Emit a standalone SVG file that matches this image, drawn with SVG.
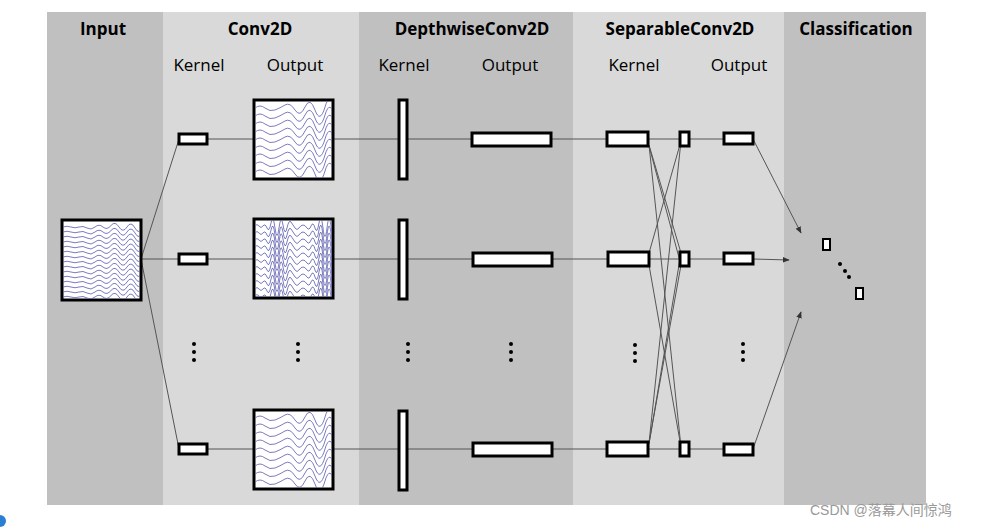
<svg xmlns="http://www.w3.org/2000/svg" xmlns:xlink="http://www.w3.org/1999/xlink" width="998" height="527" viewBox="0 0 998 527">
<style>
.hd{font-family:"Open Sans","Liberation Sans",sans-serif;font-weight:bold;font-size:17px;fill:#000;text-anchor:middle}
.sb{font-family:"Open Sans","Liberation Sans",sans-serif;font-size:17px;fill:#000;text-anchor:middle}
.bx{fill:#fff;stroke:#000;stroke-width:3}
.img{fill:#fff;stroke:#000;stroke-width:3}
.ln{stroke:#555;stroke-width:1;fill:none}
.w{stroke:#6464b4;stroke-width:1;fill:none;stroke-opacity:0.85}
</style>
<defs>
<marker id="ah" viewBox="0 0 10 10" refX="9" refY="5" markerWidth="7" markerHeight="7" orient="auto"><path d="M0,1 L10,5 L0,9 z" fill="#333"/></marker>
<path id="wi" d="M0,0 q4,-1.5 8,0 t8,0 t8,1 t8,-1 t8,0 t8,-1.5 t8,1.5 t8,0 t8,1 t8,-1"/>
<path id="wc" d="M0,0 q5,-4 10,0 t10,2 t10,-5 t10,5 t10,-3 t10,3 t10,-3 t10,3"/>
<path id="wh" d="M0,0 q2,-3 4,0 t4,0 t4,2 t4,-5 t4,5 t4,0 t4,-3 t4,3 t4,-6 t4,6 t4,0 t4,-3 t4,3 t4,-2 t4,2 t4,-5 t4,5 t4,0 t4,-2 t4,2"/>
<clipPath id="c1"><rect x="63" y="221" width="77" height="78"/></clipPath>
<clipPath id="c2"><rect x="255" y="101" width="77" height="77"/></clipPath>
<clipPath id="c3"><rect x="255" y="220" width="77" height="77"/></clipPath>
<clipPath id="c4"><rect x="255" y="411" width="77" height="77"/></clipPath>
</defs>
<g id="panels">
<rect x="47" y="12" width="116" height="493" fill="#c0c0c0"/>
<rect x="163" y="12" width="196" height="493" fill="#d9d9d9"/>
<rect x="359" y="12" width="214" height="493" fill="#c0c0c0"/>
<rect x="573" y="12" width="211" height="493" fill="#d9d9d9"/>
<rect x="784" y="12" width="142" height="493" fill="#c0c0c0"/>
</g>
<g id="labels">
<text class="hd" x="103" y="35">Input</text>
<text class="hd" x="260" y="35">Conv2D</text>
<text class="hd" x="472" y="35">DepthwiseConv2D</text>
<text class="hd" x="680" y="35">SeparableConv2D</text>
<text class="hd" x="856" y="35">Classification</text>
<text class="sb" x="199" y="71">Kernel</text>
<text class="sb" x="295" y="71">Output</text>
<text class="sb" x="404" y="71">Kernel</text>
<text class="sb" x="510" y="71">Output</text>
<text class="sb" x="634" y="71">Kernel</text>
<text class="sb" x="739" y="71">Output</text>
</g>
<g id="connectors">
<path class="ln" d="M141,259 L179,139 M141,259 L179,259 M141,259 L179,449"/>
<path class="ln" d="M207,139 H254 M207,259 H254 M207,449 H254"/>
<path class="ln" d="M333,139 H399 M333,259 H399 M333,449 H399"/>
<path class="ln" d="M407,139 H472 M407,259 H472 M407,449 H472"/>
<path class="ln" d="M551,139 H607 M551,259 H607 M551,449 H607"/>
<path class="ln" d="M648,139 H680 M648,259 H680 M648,449 H680"/>
<path class="ln" d="M689,139 H724 M689,259 H724 M689,449 H724"/>
<path class="ln" d="M649,145 L681,253 M649,145 L681,447 M649,253 L681,141 M649,265 L681,447 M649,443 L681,141 M649,443 L681,265 M649,146 L681,265 M649,444 L681,253"/>
<path class="ln" marker-end="url(#ah)" d="M753,139 L801,233"/>
<path class="ln" marker-end="url(#ah)" d="M753,259 L789,260"/>
<path class="ln" marker-end="url(#ah)" d="M753,449 L801,312"/>
</g>
<g id="input">
<rect class="img" x="62" y="220" width="79" height="80"/>
<g clip-path="url(#c1)" class="w">
<use href="#wi" x="63" y="227"/><use href="#wi" x="63" y="232"/><use href="#wi" x="63" y="237"/><use href="#wi" x="63" y="242"/><use href="#wi" x="63" y="247"/><use href="#wi" x="63" y="252"/><use href="#wi" x="63" y="257"/><use href="#wi" x="63" y="262"/><use href="#wi" x="63" y="267"/><use href="#wi" x="63" y="272"/><use href="#wi" x="63" y="277"/><use href="#wi" x="63" y="282"/><use href="#wi" x="63" y="287"/><use href="#wi" x="63" y="292"/><use href="#wi" x="63" y="297"/>
</g>
</g>
<g id="conv-kernels">
<rect class="bx" x="179" y="134" width="28" height="10"/>
<rect class="bx" x="179" y="254" width="28" height="10"/>
<rect class="bx" x="179" y="444" width="28" height="10"/>
</g>
<g id="conv-outputs">
<rect class="img" x="254" y="100" width="79" height="79"/>
<g clip-path="url(#c2)" class="w">
<use href="#wc" x="255" y="108"/><use href="#wc" x="255" y="116"/><use href="#wc" x="255" y="124"/><use href="#wc" x="255" y="132"/><use href="#wc" x="255" y="140"/><use href="#wc" x="255" y="148"/><use href="#wc" x="255" y="156"/><use href="#wc" x="255" y="164"/><use href="#wc" x="255" y="172"/>
</g>
<rect class="img" x="254" y="219" width="79" height="79"/>
<g clip-path="url(#c3)" class="w">
<use href="#wh" x="255" y="226"/><use href="#wh" x="255" y="233"/><use href="#wh" x="255" y="240"/><use href="#wh" x="255" y="247"/><use href="#wh" x="255" y="254"/><use href="#wh" x="255" y="261"/><use href="#wh" x="255" y="268"/><use href="#wh" x="255" y="275"/><use href="#wh" x="255" y="282"/><use href="#wh" x="255" y="289"/><use href="#wh" x="255" y="296"/>
</g>
<rect class="img" x="254" y="410" width="79" height="79"/>
<g clip-path="url(#c4)" class="w">
<use href="#wc" x="255" y="418"/><use href="#wc" x="255" y="426"/><use href="#wc" x="255" y="434"/><use href="#wc" x="255" y="442"/><use href="#wc" x="255" y="450"/><use href="#wc" x="255" y="458"/><use href="#wc" x="255" y="466"/><use href="#wc" x="255" y="474"/><use href="#wc" x="255" y="482"/>
</g>
</g>
<g id="depthwise-kernels">
<rect class="bx" x="399" y="100" width="8" height="79"/>
<rect class="bx" x="399" y="220" width="8" height="79"/>
<rect class="bx" x="399" y="411" width="8" height="79"/>
</g>
<g id="depthwise-outputs">
<rect class="bx" x="472" y="133" width="79" height="13"/>
<rect class="bx" x="473" y="253" width="79" height="13"/>
<rect class="bx" x="473" y="443" width="79" height="13"/>
</g>
<g id="separable-kernels">
<rect class="bx" x="607" y="132" width="41" height="14"/>
<rect class="bx" x="608" y="252" width="41" height="14"/>
<rect class="bx" x="607" y="442" width="41" height="14"/>
</g>
<g id="pointwise">
<rect class="bx" x="680" y="132" width="9" height="14"/>
<rect class="bx" x="680" y="252" width="9" height="14"/>
<rect class="bx" x="680" y="442" width="9" height="14"/>
</g>
<g id="separable-outputs">
<rect class="bx" x="724" y="133" width="29" height="11"/>
<rect class="bx" x="724" y="253" width="29" height="11"/>
<rect class="bx" x="724" y="444" width="29" height="11"/>
</g>
<g id="classification">
<rect x="823" y="239" width="7" height="11" fill="#fff" stroke="#000" stroke-width="2"/>
<rect x="856" y="288" width="7" height="11" fill="#fff" stroke="#000" stroke-width="2"/>
<circle cx="840" cy="264" r="2"/><circle cx="845" cy="271" r="2"/><circle cx="849" cy="277" r="2"/>
</g>
<g id="ellipses" fill="#000">
<circle cx="194" cy="344" r="2"/><circle cx="194" cy="352" r="2"/><circle cx="194" cy="360" r="2"/>
<circle cx="298" cy="344" r="2"/><circle cx="298" cy="352" r="2"/><circle cx="298" cy="360" r="2"/>
<circle cx="408" cy="344" r="2"/><circle cx="408" cy="352" r="2"/><circle cx="408" cy="360" r="2"/>
<circle cx="511" cy="344" r="2"/><circle cx="511" cy="352" r="2"/><circle cx="511" cy="360" r="2"/>
<circle cx="635" cy="345" r="2"/><circle cx="635" cy="353" r="2"/><circle cx="635" cy="361" r="2"/>
<circle cx="743" cy="344" r="2"/><circle cx="743" cy="352" r="2"/><circle cx="743" cy="360" r="2"/>
</g>
<text x="810" y="515" font-family="'Liberation Sans','Noto Sans CJK SC',sans-serif" font-size="14" fill="#999">CSDN @落幕人间惊鸿</text>
<circle cx="0" cy="521" r="6" fill="#2a7fd4"/>
</svg>
